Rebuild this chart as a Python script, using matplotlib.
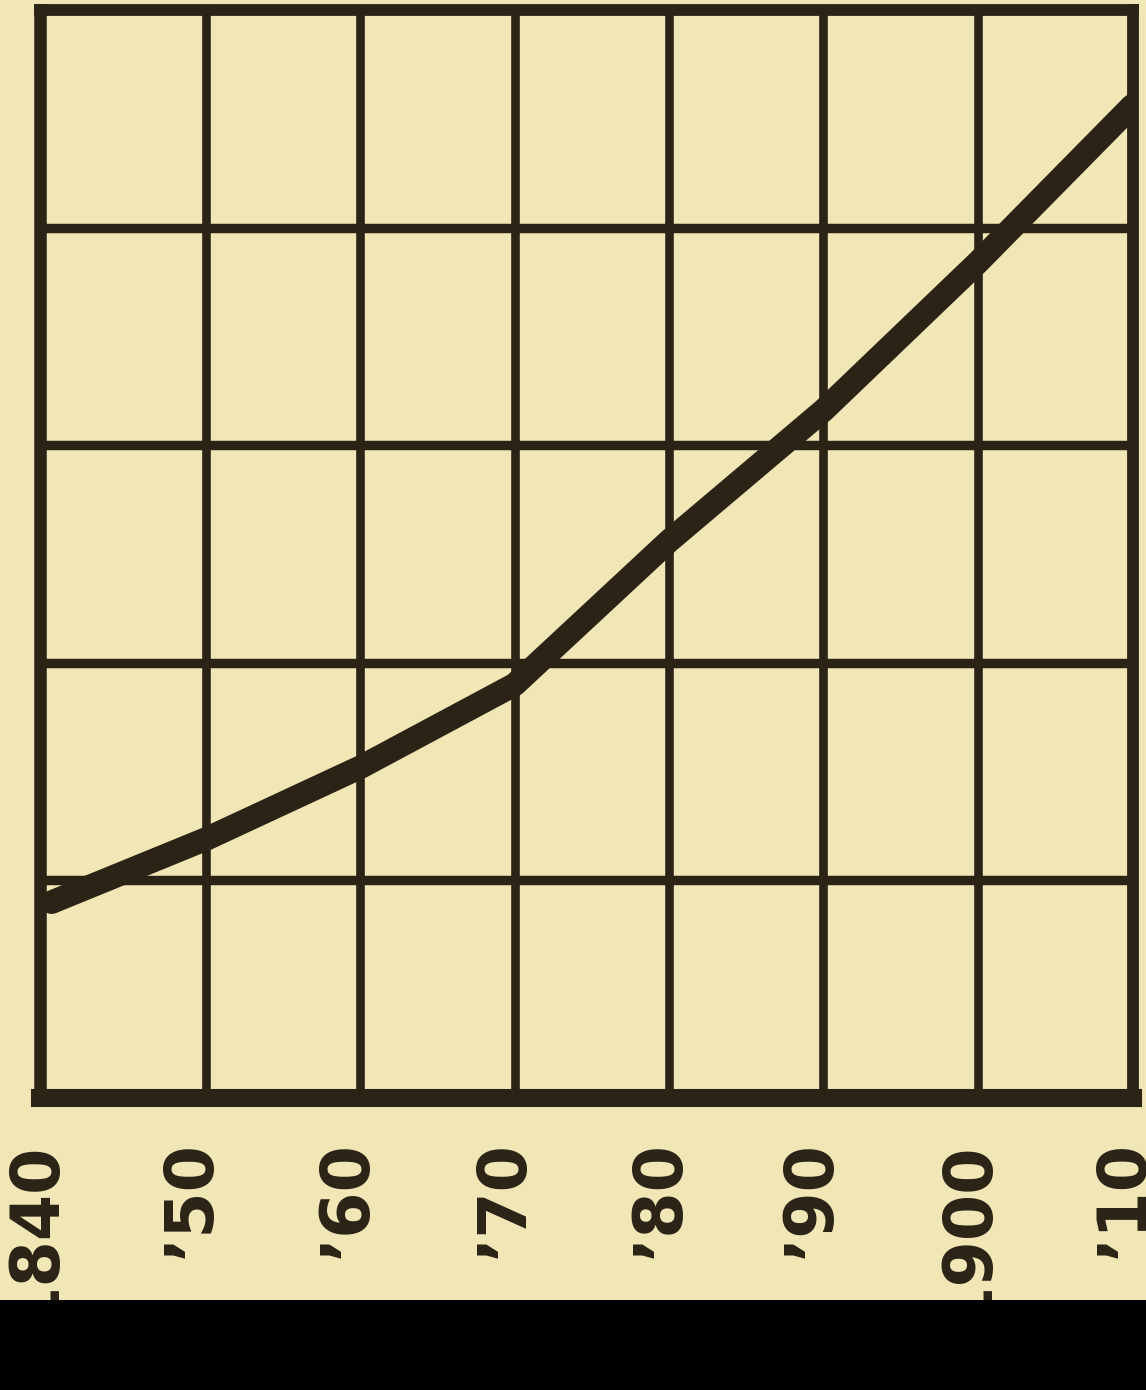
import matplotlib
matplotlib.use("Agg")
import matplotlib.pyplot as plt
from matplotlib.patches import Rectangle

# Data
years = [1840, 1850, 1860, 1870, 1880, 1890, 1900, 1910]
values = [0.90, 1.19, 1.52, 1.90, 2.56, 3.16, 3.84, 4.56]
tick_years = [1840, 1850, 1860, 1870, 1880, 1890, 1900, 1910]
tick_labels = ["1840", "\u201950", "\u201960", "\u201970", "\u201980", "\u201990", "1900", "\u201910"]
y_grid = [0, 1, 2, 3, 4, 5]

paper = "#f0e6b6"
ink = "#2a2316"

fig = plt.figure(figsize=(11.46, 13.90), dpi=100)
fig.patch.set_facecolor(paper)

ax = fig.add_axes([40 / 1146, 1 - 1098 / 1390, 1093 / 1146, 1088 / 1390])
ax.set_facecolor(paper)
ax.set_xlim(1839.25, 1910.05)
ax.set_ylim(0, 5)

for x in tick_years[1:-1]:
    ax.axvline(x, color=ink, lw=6.2, zorder=1)
for y in y_grid[1:-1]:
    ax.axhline(y, color=ink, lw=6.8, zorder=1)

ax.plot(years, values, color=ink, lw=17, solid_capstyle="round",
        solid_joinstyle="round", zorder=3, clip_on=True)

for side, w in [("left", 9.0), ("right", 8.5), ("top", 8.5), ("bottom", 13.0)]:
    ax.spines[side].set_color(ink)
    ax.spines[side].set_linewidth(w)
    ax.spines[side].set_zorder(4)

ax.set_xticks(tick_years)
ax.set_xticklabels([])
ax.set_yticks([])
ax.tick_params(length=0)

label_dx = [-13, -11, -10, -8, -7, -9, -8, -6]
for x, lab, dx in zip(tick_years, tick_labels, label_dx):
    ax.annotate(lab, xy=(x, 0), xycoords="data", xytext=(dx, -30),
                textcoords="offset points", rotation=90, ha="center", va="top",
                fontsize=48, fontweight="bold", family="DejaVu Sans",
                color=ink, annotation_clip=False)

# dark band at the bottom of the image
fig.add_artist(Rectangle((0, 0), 1, 90 / 1390, transform=fig.transFigure,
                         facecolor="black", edgecolor="none", zorder=10))

fig.savefig("out.png", dpi=100, facecolor=paper)
